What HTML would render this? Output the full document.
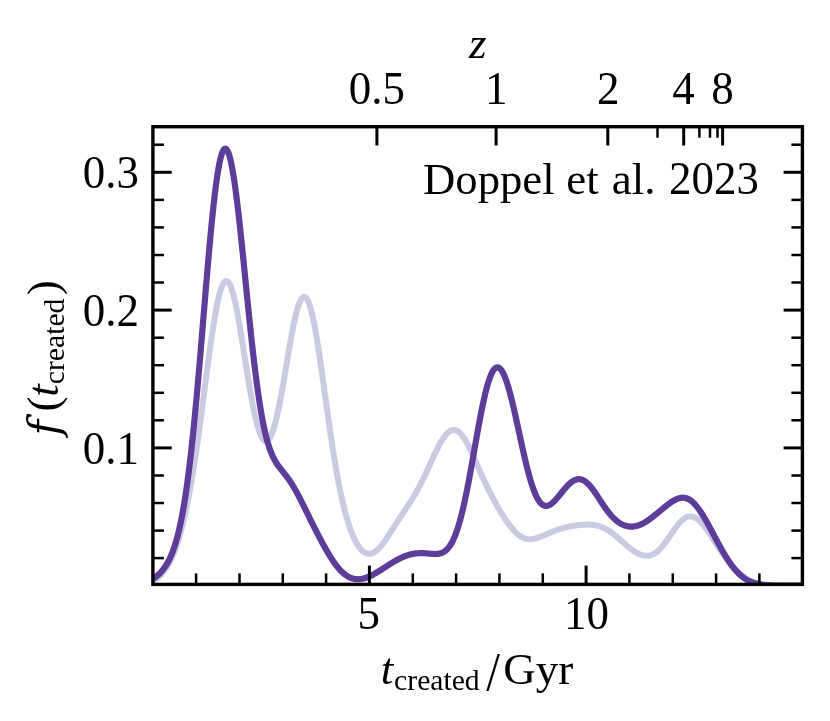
<!DOCTYPE html>
<html><head><meta charset="utf-8"><title>plot</title>
<style>
html,body{margin:0;padding:0;background:#fff;}
svg{display:block;}
text{font-family:"Liberation Serif",serif;font-size:45px;fill:#000;}
</style></head><body>
<svg width="830" height="721" viewBox="0 0 830 721">
<rect width="830" height="721" fill="#fff"/>
<clipPath id="c"><rect x="152.9" y="126.7" width="649.5" height="457.7"/></clipPath>
<g clip-path="url(#c)">
<path d="M151.9,581.45 L152.4,581.21 L152.9,580.95 L153.4,580.69 L153.9,580.41 L154.4,580.11 L154.9,579.80 L155.4,579.48 L155.9,579.15 L156.4,578.80 L156.9,578.43 L157.4,578.05 L157.9,577.65 L158.4,577.24 L158.9,576.81 L159.4,576.36 L159.9,575.89 L160.4,575.40 L160.9,574.90 L161.4,574.37 L161.9,573.82 L162.4,573.25 L162.9,572.67 L163.4,572.05 L163.9,571.42 L164.4,570.76 L164.9,570.08 L165.4,569.37 L165.9,568.64 L166.4,567.88 L166.9,567.10 L167.4,566.29 L167.9,565.45 L168.4,564.58 L168.9,563.68 L169.4,562.76 L169.9,561.80 L170.4,560.81 L170.9,559.79 L171.4,558.74 L171.9,557.66 L172.4,556.54 L172.9,555.38 L173.4,554.19 L173.9,552.97 L174.4,551.70 L174.9,550.40 L175.4,549.06 L175.9,547.68 L176.4,546.27 L176.9,544.81 L177.4,543.31 L177.9,541.76 L178.4,540.18 L178.9,538.55 L179.4,536.87 L179.9,535.15 L180.4,533.39 L180.9,531.58 L181.4,529.72 L181.9,527.81 L182.4,525.85 L182.9,523.85 L183.4,521.79 L183.9,519.68 L184.4,517.52 L184.9,515.31 L185.4,513.05 L185.9,510.74 L186.4,508.37 L186.9,505.95 L187.4,503.47 L187.9,500.94 L188.4,498.36 L188.9,495.72 L189.4,493.02 L189.9,490.28 L190.4,487.48 L190.9,484.62 L191.4,481.71 L191.9,478.75 L192.4,475.73 L192.9,472.66 L193.4,469.54 L193.9,466.37 L194.4,463.15 L194.9,459.87 L195.4,456.56 L195.9,453.19 L196.4,449.78 L196.9,446.32 L197.4,442.83 L197.9,439.29 L198.4,435.71 L198.9,432.10 L199.4,428.45 L199.9,424.78 L200.4,421.07 L200.9,417.33 L201.4,413.58 L201.9,409.80 L202.4,406.00 L202.9,402.19 L203.4,398.37 L203.9,394.54 L204.4,390.70 L204.9,386.86 L205.4,383.03 L205.9,379.21 L206.4,375.39 L206.9,371.59 L207.4,367.81 L207.9,364.06 L208.4,360.33 L208.9,356.63 L209.4,352.98 L209.9,349.36 L210.4,345.79 L210.9,342.27 L211.4,338.81 L211.9,335.40 L212.4,332.07 L212.9,328.80 L213.4,325.60 L213.9,322.49 L214.4,319.45 L214.9,316.51 L215.4,313.65 L215.9,310.89 L216.4,308.23 L216.9,305.68 L217.4,303.23 L217.9,300.90 L218.4,298.68 L218.9,296.58 L219.4,294.60 L219.9,292.75 L220.4,291.02 L220.9,289.43 L221.4,287.97 L221.9,286.64 L222.4,285.45 L222.9,284.40 L223.4,283.49 L223.9,282.72 L224.4,282.10 L224.9,281.62 L225.4,281.28 L225.9,281.09 L226.4,281.04 L226.9,281.13 L227.4,281.37 L227.9,281.75 L228.4,282.27 L228.9,282.93 L229.4,283.73 L229.9,284.66 L230.4,285.73 L230.9,286.94 L231.4,288.27 L231.9,289.72 L232.4,291.30 L232.9,293.00 L233.4,294.81 L233.9,296.74 L234.4,298.78 L234.9,300.92 L235.4,303.16 L235.9,305.49 L236.4,307.92 L236.9,310.43 L237.4,313.02 L237.9,315.69 L238.4,318.44 L238.9,321.24 L239.4,324.11 L239.9,327.04 L240.4,330.01 L240.9,333.03 L241.4,336.09 L241.9,339.18 L242.4,342.31 L242.9,345.45 L243.4,348.62 L243.9,351.79 L244.4,354.98 L244.9,358.16 L245.4,361.35 L245.9,364.52 L246.4,367.69 L246.9,370.83 L247.4,373.96 L247.9,377.05 L248.4,380.11 L248.9,383.14 L249.4,386.13 L249.9,389.07 L250.4,391.96 L250.9,394.80 L251.4,397.58 L251.9,400.30 L252.4,402.95 L252.9,405.54 L253.4,408.06 L253.9,410.50 L254.4,412.87 L254.9,415.16 L255.4,417.36 L255.9,419.48 L256.4,421.51 L256.9,423.45 L257.4,425.30 L257.9,427.05 L258.4,428.71 L258.9,430.27 L259.4,431.73 L259.9,433.09 L260.4,434.34 L260.9,435.50 L261.4,436.55 L261.9,437.49 L262.4,438.32 L262.9,439.05 L263.4,439.67 L263.9,440.19 L264.4,440.59 L264.9,440.88 L265.4,441.07 L265.9,441.14 L266.4,441.11 L266.9,440.96 L267.4,440.71 L267.9,440.35 L268.4,439.87 L268.9,439.30 L269.4,438.61 L269.9,437.82 L270.4,436.92 L270.9,435.92 L271.4,434.82 L271.9,433.61 L272.4,432.30 L272.9,430.90 L273.4,429.40 L273.9,427.80 L274.4,426.11 L274.9,424.33 L275.4,422.46 L275.9,420.50 L276.4,418.46 L276.9,416.34 L277.4,414.14 L277.9,411.86 L278.4,409.52 L278.9,407.10 L279.4,404.61 L279.9,402.07 L280.4,399.46 L280.9,396.80 L281.4,394.09 L281.9,391.34 L282.4,388.54 L282.9,385.70 L283.4,382.82 L283.9,379.92 L284.4,376.99 L284.9,374.05 L285.4,371.08 L285.9,368.11 L286.4,365.13 L286.9,362.16 L287.4,359.18 L287.9,356.22 L288.4,353.27 L288.9,350.35 L289.4,347.45 L289.9,344.58 L290.4,341.75 L290.9,338.96 L291.4,336.22 L291.9,333.53 L292.4,330.90 L292.9,328.34 L293.4,325.84 L293.9,323.41 L294.4,321.07 L294.9,318.80 L295.4,316.63 L295.9,314.55 L296.4,312.56 L296.9,310.68 L297.4,308.90 L297.9,307.23 L298.4,305.67 L298.9,304.23 L299.4,302.91 L299.9,301.72 L300.4,300.64 L300.9,299.70 L301.4,298.89 L301.9,298.21 L302.4,297.66 L302.9,297.25 L303.4,296.98 L303.9,296.85 L304.4,296.85 L304.9,297.00 L305.4,297.28 L305.9,297.71 L306.4,298.27 L306.9,298.98 L307.4,299.82 L307.9,300.80 L308.4,301.91 L308.9,303.16 L309.4,304.54 L309.9,306.05 L310.4,307.69 L310.9,309.45 L311.4,311.33 L311.9,313.34 L312.4,315.46 L312.9,317.69 L313.4,320.03 L313.9,322.47 L314.4,325.02 L314.9,327.66 L315.4,330.39 L315.9,333.22 L316.4,336.12 L316.9,339.11 L317.4,342.17 L317.9,345.30 L318.4,348.49 L318.9,351.75 L319.4,355.06 L319.9,358.43 L320.4,361.83 L320.9,365.29 L321.4,368.77 L321.9,372.29 L322.4,375.84 L322.9,379.41 L323.4,383.00 L323.9,386.60 L324.4,390.21 L324.9,393.82 L325.4,397.44 L325.9,401.06 L326.4,404.66 L326.9,408.26 L327.4,411.84 L327.9,415.41 L328.4,418.95 L328.9,422.47 L329.4,425.96 L329.9,429.43 L330.4,432.85 L330.9,436.25 L331.4,439.60 L331.9,442.92 L332.4,446.19 L332.9,449.42 L333.4,452.61 L333.9,455.75 L334.4,458.83 L334.9,461.87 L335.4,464.86 L335.9,467.79 L336.4,470.67 L336.9,473.49 L337.4,476.27 L337.9,478.98 L338.4,481.64 L338.9,484.25 L339.4,486.79 L339.9,489.28 L340.4,491.72 L340.9,494.10 L341.4,496.42 L341.9,498.69 L342.4,500.90 L342.9,503.06 L343.4,505.16 L343.9,507.21 L344.4,509.21 L344.9,511.15 L345.4,513.04 L345.9,514.88 L346.4,516.66 L346.9,518.40 L347.4,520.09 L347.9,521.72 L348.4,523.31 L348.9,524.86 L349.4,526.35 L349.9,527.80 L350.4,529.20 L350.9,530.56 L351.4,531.88 L351.9,533.15 L352.4,534.38 L352.9,535.56 L353.4,536.71 L353.9,537.81 L354.4,538.88 L354.9,539.90 L355.4,540.88 L355.9,541.83 L356.4,542.74 L356.9,543.60 L357.4,544.43 L357.9,545.23 L358.4,545.98 L358.9,546.70 L359.4,547.39 L359.9,548.03 L360.4,548.64 L360.9,549.22 L361.4,549.76 L361.9,550.26 L362.4,550.73 L362.9,551.17 L363.4,551.57 L363.9,551.94 L364.4,552.27 L364.9,552.57 L365.4,552.83 L365.9,553.07 L366.4,553.27 L366.9,553.43 L367.4,553.56 L367.9,553.67 L368.4,553.73 L368.9,553.77 L369.4,553.78 L369.9,553.75 L370.4,553.69 L370.9,553.60 L371.4,553.49 L371.9,553.34 L372.4,553.16 L372.9,552.96 L373.4,552.72 L373.9,552.46 L374.4,552.17 L374.9,551.85 L375.4,551.51 L375.9,551.14 L376.4,550.74 L376.9,550.33 L377.4,549.88 L377.9,549.42 L378.4,548.93 L378.9,548.42 L379.4,547.89 L379.9,547.34 L380.4,546.77 L380.9,546.18 L381.4,545.57 L381.9,544.95 L382.4,544.31 L382.9,543.66 L383.4,542.99 L383.9,542.31 L384.4,541.61 L384.9,540.91 L385.4,540.19 L385.9,539.46 L386.4,538.72 L386.9,537.98 L387.4,537.22 L387.9,536.46 L388.4,535.70 L388.9,534.93 L389.4,534.15 L389.9,533.37 L390.4,532.59 L390.9,531.80 L391.4,531.01 L391.9,530.22 L392.4,529.43 L392.9,528.64 L393.4,527.85 L393.9,527.07 L394.4,526.28 L394.9,525.49 L395.4,524.70 L395.9,523.92 L396.4,523.14 L396.9,522.36 L397.4,521.58 L397.9,520.81 L398.4,520.04 L398.9,519.27 L399.4,518.51 L399.9,517.74 L400.4,516.98 L400.9,516.23 L401.4,515.47 L401.9,514.72 L402.4,513.97 L402.9,513.22 L403.4,512.47 L403.9,511.72 L404.4,510.97 L404.9,510.22 L405.4,509.48 L405.9,508.73 L406.4,507.98 L406.9,507.22 L407.4,506.47 L407.9,505.71 L408.4,504.95 L408.9,504.19 L409.4,503.42 L409.9,502.65 L410.4,501.87 L410.9,501.09 L411.4,500.29 L411.9,499.50 L412.4,498.69 L412.9,497.88 L413.4,497.06 L413.9,496.23 L414.4,495.39 L414.9,494.55 L415.4,493.69 L415.9,492.82 L416.4,491.94 L416.9,491.06 L417.4,490.16 L417.9,489.25 L418.4,488.33 L418.9,487.40 L419.4,486.46 L419.9,485.51 L420.4,484.54 L420.9,483.57 L421.4,482.58 L421.9,481.59 L422.4,480.58 L422.9,479.57 L423.4,478.54 L423.9,477.51 L424.4,476.46 L424.9,475.41 L425.4,474.35 L425.9,473.29 L426.4,472.21 L426.9,471.13 L427.4,470.05 L427.9,468.96 L428.4,467.87 L428.9,466.77 L429.4,465.67 L429.9,464.57 L430.4,463.47 L430.9,462.37 L431.4,461.27 L431.9,460.17 L432.4,459.08 L432.9,457.99 L433.4,456.91 L433.9,455.83 L434.4,454.76 L434.9,453.70 L435.4,452.64 L435.9,451.60 L436.4,450.57 L436.9,449.56 L437.4,448.55 L437.9,447.56 L438.4,446.59 L438.9,445.64 L439.4,444.70 L439.9,443.79 L440.4,442.89 L440.9,442.02 L441.4,441.17 L441.9,440.34 L442.4,439.54 L442.9,438.76 L443.4,438.01 L443.9,437.29 L444.4,436.60 L444.9,435.94 L445.4,435.31 L445.9,434.71 L446.4,434.14 L446.9,433.61 L447.4,433.11 L447.9,432.64 L448.4,432.21 L448.9,431.82 L449.4,431.46 L449.9,431.14 L450.4,430.86 L450.9,430.62 L451.4,430.41 L451.9,430.25 L452.4,430.12 L452.9,430.03 L453.4,429.98 L453.9,429.98 L454.4,430.01 L454.9,430.08 L455.4,430.19 L455.9,430.34 L456.4,430.53 L456.9,430.77 L457.4,431.04 L457.9,431.34 L458.4,431.69 L458.9,432.08 L459.4,432.50 L459.9,432.96 L460.4,433.46 L460.9,433.99 L461.4,434.56 L461.9,435.16 L462.4,435.80 L462.9,436.47 L463.4,437.17 L463.9,437.90 L464.4,438.66 L464.9,439.45 L465.4,440.27 L465.9,441.12 L466.4,441.99 L466.9,442.89 L467.4,443.81 L467.9,444.75 L468.4,445.72 L468.9,446.70 L469.4,447.71 L469.9,448.73 L470.4,449.76 L470.9,450.82 L471.4,451.89 L471.9,452.97 L472.4,454.06 L472.9,455.16 L473.4,456.27 L473.9,457.39 L474.4,458.52 L474.9,459.65 L475.4,460.79 L475.9,461.93 L476.4,463.07 L476.9,464.22 L477.4,465.37 L477.9,466.51 L478.4,467.66 L478.9,468.81 L479.4,469.95 L479.9,471.09 L480.4,472.22 L480.9,473.35 L481.4,474.48 L481.9,475.60 L482.4,476.71 L482.9,477.82 L483.4,478.92 L483.9,480.01 L484.4,481.10 L484.9,482.17 L485.4,483.24 L485.9,484.30 L486.4,485.35 L486.9,486.40 L487.4,487.43 L487.9,488.45 L488.4,489.47 L488.9,490.48 L489.4,491.48 L489.9,492.47 L490.4,493.45 L490.9,494.42 L491.4,495.38 L491.9,496.34 L492.4,497.28 L492.9,498.22 L493.4,499.15 L493.9,500.07 L494.4,500.99 L494.9,501.89 L495.4,502.79 L495.9,503.69 L496.4,504.57 L496.9,505.45 L497.4,506.32 L497.9,507.18 L498.4,508.04 L498.9,508.89 L499.4,509.73 L499.9,510.57 L500.4,511.40 L500.9,512.22 L501.4,513.03 L501.9,513.84 L502.4,514.64 L502.9,515.44 L503.4,516.22 L503.9,517.00 L504.4,517.77 L504.9,518.53 L505.4,519.29 L505.9,520.03 L506.4,520.77 L506.9,521.50 L507.4,522.21 L507.9,522.92 L508.4,523.62 L508.9,524.30 L509.4,524.98 L509.9,525.64 L510.4,526.29 L510.9,526.93 L511.4,527.56 L511.9,528.18 L512.4,528.78 L512.9,529.36 L513.4,529.93 L513.9,530.49 L514.4,531.03 L514.9,531.56 L515.4,532.07 L515.9,532.56 L516.4,533.04 L516.9,533.50 L517.4,533.95 L517.9,534.38 L518.4,534.79 L518.9,535.18 L519.4,535.55 L519.9,535.91 L520.4,536.24 L520.9,536.56 L521.4,536.86 L521.9,537.15 L522.4,537.41 L522.9,537.66 L523.4,537.88 L523.9,538.09 L524.4,538.28 L524.9,538.46 L525.4,538.61 L525.9,538.75 L526.4,538.87 L526.9,538.97 L527.4,539.06 L527.9,539.13 L528.4,539.18 L528.9,539.22 L529.4,539.25 L529.9,539.25 L530.4,539.25 L530.9,539.23 L531.4,539.19 L531.9,539.14 L532.4,539.09 L532.9,539.01 L533.4,538.93 L533.9,538.83 L534.4,538.73 L534.9,538.61 L535.4,538.49 L535.9,538.35 L536.4,538.21 L536.9,538.06 L537.4,537.90 L537.9,537.74 L538.4,537.57 L538.9,537.39 L539.4,537.20 L539.9,537.02 L540.4,536.82 L540.9,536.63 L541.4,536.43 L541.9,536.22 L542.4,536.02 L542.9,535.81 L543.4,535.60 L543.9,535.38 L544.4,535.17 L544.9,534.95 L545.4,534.74 L545.9,534.52 L546.4,534.31 L546.9,534.09 L547.4,533.87 L547.9,533.66 L548.4,533.44 L548.9,533.23 L549.4,533.02 L549.9,532.81 L550.4,532.60 L550.9,532.39 L551.4,532.19 L551.9,531.99 L552.4,531.79 L552.9,531.59 L553.4,531.39 L553.9,531.20 L554.4,531.01 L554.9,530.82 L555.4,530.63 L555.9,530.45 L556.4,530.27 L556.9,530.09 L557.4,529.92 L557.9,529.75 L558.4,529.58 L558.9,529.41 L559.4,529.25 L559.9,529.09 L560.4,528.93 L560.9,528.77 L561.4,528.62 L561.9,528.47 L562.4,528.33 L562.9,528.18 L563.4,528.04 L563.9,527.91 L564.4,527.77 L564.9,527.64 L565.4,527.51 L565.9,527.39 L566.4,527.26 L566.9,527.14 L567.4,527.03 L567.9,526.91 L568.4,526.80 L568.9,526.69 L569.4,526.59 L569.9,526.48 L570.4,526.38 L570.9,526.29 L571.4,526.19 L571.9,526.10 L572.4,526.01 L572.9,525.92 L573.4,525.84 L573.9,525.76 L574.4,525.68 L574.9,525.60 L575.4,525.53 L575.9,525.46 L576.4,525.39 L576.9,525.32 L577.4,525.26 L577.9,525.20 L578.4,525.14 L578.9,525.09 L579.4,525.04 L579.9,524.99 L580.4,524.94 L580.9,524.90 L581.4,524.86 L581.9,524.82 L582.4,524.78 L582.9,524.75 L583.4,524.72 L583.9,524.70 L584.4,524.67 L584.9,524.65 L585.4,524.64 L585.9,524.63 L586.4,524.62 L586.9,524.61 L587.4,524.61 L587.9,524.62 L588.4,524.63 L588.9,524.64 L589.4,524.66 L589.9,524.68 L590.4,524.70 L590.9,524.74 L591.4,524.77 L591.9,524.82 L592.4,524.86 L592.9,524.92 L593.4,524.98 L593.9,525.04 L594.4,525.12 L594.9,525.20 L595.4,525.28 L595.9,525.38 L596.4,525.48 L596.9,525.59 L597.4,525.70 L597.9,525.83 L598.4,525.96 L598.9,526.10 L599.4,526.25 L599.9,526.40 L600.4,526.57 L600.9,526.74 L601.4,526.92 L601.9,527.11 L602.4,527.32 L602.9,527.53 L603.4,527.74 L603.9,527.97 L604.4,528.21 L604.9,528.45 L605.4,528.71 L605.9,528.97 L606.4,529.25 L606.9,529.53 L607.4,529.82 L607.9,530.12 L608.4,530.43 L608.9,530.75 L609.4,531.08 L609.9,531.41 L610.4,531.75 L610.9,532.11 L611.4,532.46 L611.9,532.83 L612.4,533.20 L612.9,533.58 L613.4,533.97 L613.9,534.36 L614.4,534.76 L614.9,535.16 L615.4,535.57 L615.9,535.99 L616.4,536.41 L616.9,536.83 L617.4,537.26 L617.9,537.69 L618.4,538.13 L618.9,538.56 L619.4,539.00 L619.9,539.45 L620.4,539.89 L620.9,540.33 L621.4,540.78 L621.9,541.23 L622.4,541.67 L622.9,542.12 L623.4,542.56 L623.9,543.01 L624.4,543.45 L624.9,543.89 L625.4,544.33 L625.9,544.76 L626.4,545.19 L626.9,545.62 L627.4,546.04 L627.9,546.47 L628.4,546.88 L628.9,547.29 L629.4,547.70 L629.9,548.10 L630.4,548.49 L630.9,548.88 L631.4,549.26 L631.9,549.63 L632.4,549.99 L632.9,550.35 L633.4,550.70 L633.9,551.04 L634.4,551.37 L634.9,551.70 L635.4,552.01 L635.9,552.31 L636.4,552.61 L636.9,552.89 L637.4,553.16 L637.9,553.42 L638.4,553.67 L638.9,553.91 L639.4,554.13 L639.9,554.34 L640.4,554.54 L640.9,554.73 L641.4,554.90 L641.9,555.06 L642.4,555.20 L642.9,555.33 L643.4,555.45 L643.9,555.54 L644.4,555.63 L644.9,555.69 L645.4,555.74 L645.9,555.78 L646.4,555.80 L646.9,555.79 L647.4,555.78 L647.9,555.74 L648.4,555.69 L648.9,555.61 L649.4,555.52 L649.9,555.41 L650.4,555.28 L650.9,555.13 L651.4,554.96 L651.9,554.77 L652.4,554.57 L652.9,554.34 L653.4,554.09 L653.9,553.82 L654.4,553.53 L654.9,553.22 L655.4,552.90 L655.9,552.55 L656.4,552.18 L656.9,551.79 L657.4,551.38 L657.9,550.95 L658.4,550.51 L658.9,550.04 L659.4,549.55 L659.9,549.05 L660.4,548.53 L660.9,547.99 L661.4,547.44 L661.9,546.87 L662.4,546.28 L662.9,545.67 L663.4,545.06 L663.9,544.43 L664.4,543.78 L664.9,543.12 L665.4,542.45 L665.9,541.77 L666.4,541.08 L666.9,540.39 L667.4,539.68 L667.9,538.96 L668.4,538.24 L668.9,537.52 L669.4,536.79 L669.9,536.05 L670.4,535.32 L670.9,534.58 L671.4,533.85 L671.9,533.11 L672.4,532.38 L672.9,531.65 L673.4,530.93 L673.9,530.21 L674.4,529.50 L674.9,528.80 L675.4,528.10 L675.9,527.42 L676.4,526.75 L676.9,526.09 L677.4,525.45 L677.9,524.82 L678.4,524.20 L678.9,523.61 L679.4,523.03 L679.9,522.47 L680.4,521.93 L680.9,521.41 L681.4,520.91 L681.9,520.44 L682.4,519.98 L682.9,519.56 L683.4,519.15 L683.9,518.77 L684.4,518.42 L684.9,518.10 L685.4,517.80 L685.9,517.53 L686.4,517.28 L686.9,517.07 L687.4,516.88 L687.9,516.72 L688.4,516.59 L688.9,516.49 L689.4,516.42 L689.9,516.38 L690.4,516.36 L690.9,516.38 L691.4,516.42 L691.9,516.50 L692.4,516.60 L692.9,516.73 L693.4,516.89 L693.9,517.08 L694.4,517.29 L694.9,517.53 L695.4,517.80 L695.9,518.09 L696.4,518.41 L696.9,518.75 L697.4,519.12 L697.9,519.51 L698.4,519.93 L698.9,520.36 L699.4,520.82 L699.9,521.30 L700.4,521.80 L700.9,522.32 L701.4,522.86 L701.9,523.42 L702.4,523.99 L702.9,524.59 L703.4,525.19 L703.9,525.82 L704.4,526.45 L704.9,527.11 L705.4,527.77 L705.9,528.45 L706.4,529.13 L706.9,529.83 L707.4,530.54 L707.9,531.26 L708.4,531.98 L708.9,532.72 L709.4,533.46 L709.9,534.20 L710.4,534.96 L710.9,535.71 L711.4,536.48 L711.9,537.24 L712.4,538.01 L712.9,538.78 L713.4,539.56 L713.9,540.33 L714.4,541.11 L714.9,541.89 L715.4,542.67 L715.9,543.44 L716.4,544.22 L716.9,544.99 L717.4,545.76 L717.9,546.53 L718.4,547.30 L718.9,548.06 L719.4,548.82 L719.9,549.58 L720.4,550.33 L720.9,551.08 L721.4,551.82 L721.9,552.56 L722.4,553.29 L722.9,554.01 L723.4,554.73 L723.9,555.45 L724.4,556.15 L724.9,556.85 L725.4,557.55 L725.9,558.23 L726.4,558.91 L726.9,559.58 L727.4,560.24 L727.9,560.90 L728.4,561.54 L728.9,562.18 L729.4,562.81 L729.9,563.43 L730.4,564.04 L730.9,564.64 L731.4,565.24 L731.9,565.82 L732.4,566.39 L732.9,566.96 L733.4,567.52 L733.9,568.06 L734.4,568.60 L734.9,569.13 L735.4,569.64 L735.9,570.15 L736.4,570.65 L736.9,571.14 L737.4,571.61 L737.9,572.08 L738.4,572.54 L738.9,572.99 L739.4,573.43 L739.9,573.86 L740.4,574.27 L740.9,574.68 L741.4,575.08 L741.9,575.47 L742.4,575.85 L742.9,576.22 L743.4,576.58 L743.9,576.93 L744.4,577.27 L744.9,577.60 L745.4,577.92 L745.9,578.24 L746.4,578.54 L746.9,578.83 L747.4,579.12 L747.9,579.40 L748.4,579.66 L748.9,579.92 L749.4,580.18 L749.9,580.42 L750.4,580.65 L750.9,580.88 L751.4,581.10 L751.9,581.31 L752.4,581.51 L752.9,581.71 L753.4,581.90 L753.9,582.08 L754.4,582.26 L754.9,582.43 L755.4,582.59 L755.9,582.74 L756.4,582.89 L756.9,583.04 L757.4,583.17 L757.9,583.30 L758.4,583.43 L758.9,583.55 L759.4,583.66 L759.9,583.77 L760.4,583.88 L760.9,583.98 L761.4,584.08 L761.9,584.17 L762.4,584.25 L762.9,584.34 L763.4,584.42 L763.9,584.49 L764.4,584.56 L764.9,584.63 L765.4,584.69 L765.9,584.75 L766.4,584.81 L766.9,584.87 L767.4,584.92 L767.9,584.97 L768.4,585.01 L768.9,585.06 L769.4,585.10 L769.9,585.14 L770.4,585.17 L770.9,585.21 L771.4,585.24 L771.9,585.27 L772.4,585.30 L772.9,585.33 L773.4,585.35 L773.9,585.38 L774.4,585.40 L774.9,585.42 L775.4,585.44 L775.9,585.46 L776.4,585.48 L776.9,585.49 L777.4,585.51 L777.9,585.52 L778.4,585.53 L778.9,585.55 L779.4,585.56 L779.9,585.57 L780.4,585.58 L780.9,585.59 L781.4,585.60 L781.9,585.60 L782.4,585.61 L782.9,585.62 L783.4,585.63 L783.9,585.63 L784.4,585.64 L784.9,585.64 L785.4,585.65 L785.9,585.65 L786.4,585.66 L786.9,585.66 L787.4,585.66 L787.9,585.67 L788.4,585.67 L788.9,585.67 L789.4,585.67 L789.9,585.68 L790.4,585.68 L790.9,585.68 L791.4,585.68 L791.9,585.68 L792.4,585.68 L792.9,585.69 L793.4,585.69 L793.9,585.69 L794.4,585.69 L794.9,585.69 L795.4,585.69 L795.9,585.69 L796.4,585.69 L796.9,585.69 L797.4,585.69 L797.9,585.69 L798.4,585.70 L798.9,585.70 L799.4,585.70 L799.9,585.70 L800.4,585.70 L800.9,585.70 L801.4,585.70 L801.9,585.70 L802.4,585.70 L802.9,585.70 L803.4,585.70" fill="none" stroke="#cbcae3" stroke-width="6.0" stroke-linejoin="round" stroke-linecap="butt"/>
<path d="M151.9,579.40 L152.4,579.11 L152.9,578.81 L153.4,578.49 L153.9,578.16 L154.4,577.83 L154.9,577.48 L155.4,577.11 L155.9,576.74 L156.4,576.34 L156.9,575.94 L157.4,575.52 L157.9,575.09 L158.4,574.64 L158.9,574.17 L159.4,573.69 L159.9,573.19 L160.4,572.67 L160.9,572.14 L161.4,571.58 L161.9,571.00 L162.4,570.41 L162.9,569.79 L163.4,569.14 L163.9,568.48 L164.4,567.79 L164.9,567.07 L165.4,566.33 L165.9,565.56 L166.4,564.76 L166.9,563.92 L167.4,563.06 L167.9,562.16 L168.4,561.23 L168.9,560.27 L169.4,559.26 L169.9,558.22 L170.4,557.14 L170.9,556.01 L171.4,554.84 L171.9,553.62 L172.4,552.36 L172.9,551.04 L173.4,549.68 L173.9,548.26 L174.4,546.78 L174.9,545.25 L175.4,543.66 L175.9,542.00 L176.4,540.28 L176.9,538.50 L177.4,536.64 L177.9,534.72 L178.4,532.72 L178.9,530.65 L179.4,528.51 L179.9,526.28 L180.4,523.97 L180.9,521.58 L181.4,519.10 L181.9,516.54 L182.4,513.89 L182.9,511.14 L183.4,508.30 L183.9,505.37 L184.4,502.34 L184.9,499.22 L185.4,496.00 L185.9,492.67 L186.4,489.25 L186.9,485.72 L187.4,482.09 L187.9,478.36 L188.4,474.52 L188.9,470.58 L189.4,466.53 L189.9,462.38 L190.4,458.13 L190.9,453.77 L191.4,449.31 L191.9,444.75 L192.4,440.09 L192.9,435.33 L193.4,430.47 L193.9,425.52 L194.4,420.47 L194.9,415.34 L195.4,410.12 L195.9,404.81 L196.4,399.42 L196.9,393.96 L197.4,388.42 L197.9,382.82 L198.4,377.14 L198.9,371.41 L199.4,365.63 L199.9,359.79 L200.4,353.91 L200.9,347.98 L201.4,342.03 L201.9,336.05 L202.4,330.04 L202.9,324.02 L203.4,318.00 L203.9,311.97 L204.4,305.94 L204.9,299.93 L205.4,293.94 L205.9,287.98 L206.4,282.04 L206.9,276.16 L207.4,270.32 L207.9,264.53 L208.4,258.81 L208.9,253.17 L209.4,247.60 L209.9,242.11 L210.4,236.73 L210.9,231.44 L211.4,226.26 L211.9,221.20 L212.4,216.26 L212.9,211.45 L213.4,206.78 L213.9,202.25 L214.4,197.87 L214.9,193.64 L215.4,189.58 L215.9,185.68 L216.4,181.96 L216.9,178.41 L217.4,175.04 L217.9,171.87 L218.4,168.88 L218.9,166.09 L219.4,163.49 L219.9,161.10 L220.4,158.91 L220.9,156.93 L221.4,155.16 L221.9,153.60 L222.4,152.26 L222.9,151.12 L223.4,150.21 L223.9,149.50 L224.4,149.02 L224.9,148.75 L225.4,148.69 L225.9,148.84 L226.4,149.21 L226.9,149.79 L227.4,150.58 L227.9,151.57 L228.4,152.76 L228.9,154.16 L229.4,155.75 L229.9,157.54 L230.4,159.51 L230.9,161.67 L231.4,164.02 L231.9,166.53 L232.4,169.22 L232.9,172.08 L233.4,175.10 L233.9,178.27 L234.4,181.59 L234.9,185.06 L235.4,188.66 L235.9,192.40 L236.4,196.26 L236.9,200.24 L237.4,204.34 L237.9,208.54 L238.4,212.83 L238.9,217.23 L239.4,221.71 L239.9,226.26 L240.4,230.89 L240.9,235.59 L241.4,240.34 L241.9,245.15 L242.4,250.00 L242.9,254.89 L243.4,259.82 L243.9,264.77 L244.4,269.73 L244.9,274.71 L245.4,279.70 L245.9,284.69 L246.4,289.67 L246.9,294.64 L247.4,299.59 L247.9,304.52 L248.4,309.43 L248.9,314.29 L249.4,319.12 L249.9,323.91 L250.4,328.65 L250.9,333.33 L251.4,337.96 L251.9,342.52 L252.4,347.02 L252.9,351.45 L253.4,355.81 L253.9,360.10 L254.4,364.30 L254.9,368.42 L255.4,372.46 L255.9,376.41 L256.4,380.27 L256.9,384.05 L257.4,387.73 L257.9,391.31 L258.4,394.80 L258.9,398.20 L259.4,401.50 L259.9,404.70 L260.4,407.80 L260.9,410.81 L261.4,413.72 L261.9,416.53 L262.4,419.24 L262.9,421.86 L263.4,424.39 L263.9,426.82 L264.4,429.15 L264.9,431.40 L265.4,433.56 L265.9,435.62 L266.4,437.61 L266.9,439.50 L267.4,441.32 L267.9,443.06 L268.4,444.72 L268.9,446.30 L269.4,447.82 L269.9,449.26 L270.4,450.64 L270.9,451.95 L271.4,453.20 L271.9,454.39 L272.4,455.53 L272.9,456.62 L273.4,457.66 L273.9,458.65 L274.4,459.59 L274.9,460.50 L275.4,461.37 L275.9,462.21 L276.4,463.01 L276.9,463.78 L277.4,464.53 L277.9,465.25 L278.4,465.96 L278.9,466.64 L279.4,467.31 L279.9,467.97 L280.4,468.61 L280.9,469.25 L281.4,469.88 L281.9,470.50 L282.4,471.13 L282.9,471.75 L283.4,472.37 L283.9,472.99 L284.4,473.62 L284.9,474.25 L285.4,474.89 L285.9,475.54 L286.4,476.19 L286.9,476.86 L287.4,477.53 L287.9,478.22 L288.4,478.92 L288.9,479.63 L289.4,480.35 L289.9,481.09 L290.4,481.84 L290.9,482.60 L291.4,483.37 L291.9,484.16 L292.4,484.97 L292.9,485.78 L293.4,486.61 L293.9,487.45 L294.4,488.31 L294.9,489.18 L295.4,490.06 L295.9,490.95 L296.4,491.85 L296.9,492.76 L297.4,493.68 L297.9,494.62 L298.4,495.56 L298.9,496.51 L299.4,497.47 L299.9,498.43 L300.4,499.40 L300.9,500.38 L301.4,501.37 L301.9,502.36 L302.4,503.35 L302.9,504.35 L303.4,505.35 L303.9,506.36 L304.4,507.36 L304.9,508.37 L305.4,509.39 L305.9,510.40 L306.4,511.42 L306.9,512.43 L307.4,513.45 L307.9,514.46 L308.4,515.48 L308.9,516.49 L309.4,517.50 L309.9,518.52 L310.4,519.53 L310.9,520.54 L311.4,521.55 L311.9,522.55 L312.4,523.56 L312.9,524.56 L313.4,525.56 L313.9,526.55 L314.4,527.54 L314.9,528.53 L315.4,529.52 L315.9,530.51 L316.4,531.49 L316.9,532.46 L317.4,533.44 L317.9,534.41 L318.4,535.37 L318.9,536.33 L319.4,537.29 L319.9,538.24 L320.4,539.19 L320.9,540.14 L321.4,541.07 L321.9,542.01 L322.4,542.93 L322.9,543.86 L323.4,544.77 L323.9,545.68 L324.4,546.59 L324.9,547.48 L325.4,548.37 L325.9,549.25 L326.4,550.13 L326.9,551.00 L327.4,551.86 L327.9,552.71 L328.4,553.55 L328.9,554.38 L329.4,555.20 L329.9,556.02 L330.4,556.82 L330.9,557.62 L331.4,558.40 L331.9,559.17 L332.4,559.93 L332.9,560.68 L333.4,561.41 L333.9,562.14 L334.4,562.85 L334.9,563.55 L335.4,564.23 L335.9,564.90 L336.4,565.56 L336.9,566.21 L337.4,566.84 L337.9,567.45 L338.4,568.05 L338.9,568.64 L339.4,569.21 L339.9,569.76 L340.4,570.30 L340.9,570.83 L341.4,571.33 L341.9,571.83 L342.4,572.30 L342.9,572.76 L343.4,573.21 L343.9,573.63 L344.4,574.05 L344.9,574.44 L345.4,574.82 L345.9,575.18 L346.4,575.53 L346.9,575.86 L347.4,576.18 L347.9,576.47 L348.4,576.76 L348.9,577.02 L349.4,577.27 L349.9,577.51 L350.4,577.73 L350.9,577.93 L351.4,578.12 L351.9,578.29 L352.4,578.45 L352.9,578.59 L353.4,578.72 L353.9,578.83 L354.4,578.93 L354.9,579.02 L355.4,579.09 L355.9,579.15 L356.4,579.19 L356.9,579.22 L357.4,579.24 L357.9,579.25 L358.4,579.24 L358.9,579.22 L359.4,579.19 L359.9,579.14 L360.4,579.09 L360.9,579.02 L361.4,578.94 L361.9,578.86 L362.4,578.76 L362.9,578.65 L363.4,578.53 L363.9,578.40 L364.4,578.26 L364.9,578.11 L365.4,577.95 L365.9,577.79 L366.4,577.61 L366.9,577.43 L367.4,577.24 L367.9,577.04 L368.4,576.83 L368.9,576.62 L369.4,576.40 L369.9,576.17 L370.4,575.93 L370.9,575.69 L371.4,575.45 L371.9,575.19 L372.4,574.94 L372.9,574.67 L373.4,574.40 L373.9,574.13 L374.4,573.85 L374.9,573.57 L375.4,573.28 L375.9,572.99 L376.4,572.70 L376.9,572.40 L377.4,572.10 L377.9,571.80 L378.4,571.49 L378.9,571.18 L379.4,570.87 L379.9,570.56 L380.4,570.24 L380.9,569.93 L381.4,569.61 L381.9,569.29 L382.4,568.97 L382.9,568.65 L383.4,568.32 L383.9,568.00 L384.4,567.68 L384.9,567.36 L385.4,567.03 L385.9,566.71 L386.4,566.39 L386.9,566.06 L387.4,565.74 L387.9,565.42 L388.4,565.10 L388.9,564.79 L389.4,564.47 L389.9,564.15 L390.4,563.84 L390.9,563.53 L391.4,563.22 L391.9,562.91 L392.4,562.61 L392.9,562.31 L393.4,562.01 L393.9,561.71 L394.4,561.42 L394.9,561.13 L395.4,560.84 L395.9,560.56 L396.4,560.28 L396.9,560.01 L397.4,559.74 L397.9,559.47 L398.4,559.21 L398.9,558.95 L399.4,558.69 L399.9,558.44 L400.4,558.20 L400.9,557.96 L401.4,557.72 L401.9,557.49 L402.4,557.27 L402.9,557.05 L403.4,556.83 L403.9,556.62 L404.4,556.42 L404.9,556.22 L405.4,556.03 L405.9,555.85 L406.4,555.67 L406.9,555.49 L407.4,555.33 L407.9,555.16 L408.4,555.01 L408.9,554.86 L409.4,554.72 L409.9,554.58 L410.4,554.45 L410.9,554.32 L411.4,554.21 L411.9,554.10 L412.4,553.99 L412.9,553.89 L413.4,553.80 L413.9,553.71 L414.4,553.63 L414.9,553.56 L415.4,553.49 L415.9,553.43 L416.4,553.38 L416.9,553.33 L417.4,553.29 L417.9,553.25 L418.4,553.22 L418.9,553.20 L419.4,553.18 L419.9,553.16 L420.4,553.15 L420.9,553.15 L421.4,553.15 L421.9,553.16 L422.4,553.17 L422.9,553.18 L423.4,553.20 L423.9,553.22 L424.4,553.25 L424.9,553.28 L425.4,553.31 L425.9,553.35 L426.4,553.39 L426.9,553.43 L427.4,553.47 L427.9,553.51 L428.4,553.56 L428.9,553.60 L429.4,553.65 L429.9,553.69 L430.4,553.74 L430.9,553.78 L431.4,553.82 L431.9,553.86 L432.4,553.89 L432.9,553.92 L433.4,553.94 L433.9,553.96 L434.4,553.98 L434.9,553.98 L435.4,553.98 L435.9,553.97 L436.4,553.95 L436.9,553.93 L437.4,553.88 L437.9,553.83 L438.4,553.76 L438.9,553.68 L439.4,553.59 L439.9,553.47 L440.4,553.34 L440.9,553.19 L441.4,553.02 L441.9,552.83 L442.4,552.62 L442.9,552.38 L443.4,552.11 L443.9,551.82 L444.4,551.51 L444.9,551.16 L445.4,550.78 L445.9,550.37 L446.4,549.93 L446.9,549.45 L447.4,548.94 L447.9,548.39 L448.4,547.80 L448.9,547.17 L449.4,546.50 L449.9,545.78 L450.4,545.02 L450.9,544.22 L451.4,543.37 L451.9,542.48 L452.4,541.53 L452.9,540.53 L453.4,539.49 L453.9,538.39 L454.4,537.24 L454.9,536.03 L455.4,534.78 L455.9,533.46 L456.4,532.09 L456.9,530.67 L457.4,529.19 L457.9,527.65 L458.4,526.06 L458.9,524.40 L459.4,522.69 L459.9,520.93 L460.4,519.11 L460.9,517.23 L461.4,515.29 L461.9,513.30 L462.4,511.26 L462.9,509.16 L463.4,507.00 L463.9,504.80 L464.4,502.55 L464.9,500.24 L465.4,497.89 L465.9,495.49 L466.4,493.05 L466.9,490.56 L467.4,488.04 L467.9,485.47 L468.4,482.87 L468.9,480.23 L469.4,477.56 L469.9,474.86 L470.4,472.14 L470.9,469.39 L471.4,466.61 L471.9,463.82 L472.4,461.02 L472.9,458.20 L473.4,455.37 L473.9,452.54 L474.4,449.70 L474.9,446.86 L475.4,444.02 L475.9,441.19 L476.4,438.37 L476.9,435.57 L477.4,432.78 L477.9,430.01 L478.4,427.26 L478.9,424.54 L479.4,421.85 L479.9,419.20 L480.4,416.58 L480.9,414.00 L481.4,411.46 L481.9,408.97 L482.4,406.52 L482.9,404.13 L483.4,401.80 L483.9,399.52 L484.4,397.30 L484.9,395.15 L485.4,393.06 L485.9,391.04 L486.4,389.09 L486.9,387.22 L487.4,385.42 L487.9,383.69 L488.4,382.05 L488.9,380.48 L489.4,379.00 L489.9,377.60 L490.4,376.29 L490.9,375.06 L491.4,373.92 L491.9,372.87 L492.4,371.91 L492.9,371.04 L493.4,370.26 L493.9,369.57 L494.4,368.98 L494.9,368.47 L495.4,368.06 L495.9,367.74 L496.4,367.51 L496.9,367.37 L497.4,367.33 L497.9,367.38 L498.4,367.51 L498.9,367.74 L499.4,368.05 L499.9,368.45 L500.4,368.94 L500.9,369.52 L501.4,370.18 L501.9,370.92 L502.4,371.74 L502.9,372.65 L503.4,373.63 L503.9,374.69 L504.4,375.83 L504.9,377.04 L505.4,378.32 L505.9,379.67 L506.4,381.08 L506.9,382.57 L507.4,384.12 L507.9,385.72 L508.4,387.39 L508.9,389.11 L509.4,390.89 L509.9,392.72 L510.4,394.60 L510.9,396.53 L511.4,398.50 L511.9,400.51 L512.4,402.56 L512.9,404.65 L513.4,406.77 L513.9,408.92 L514.4,411.11 L514.9,413.31 L515.4,415.54 L515.9,417.79 L516.4,420.06 L516.9,422.34 L517.4,424.64 L517.9,426.94 L518.4,429.25 L518.9,431.57 L519.4,433.88 L519.9,436.19 L520.4,438.50 L520.9,440.80 L521.4,443.09 L521.9,445.37 L522.4,447.64 L522.9,449.88 L523.4,452.11 L523.9,454.31 L524.4,456.49 L524.9,458.64 L525.4,460.76 L525.9,462.85 L526.4,464.91 L526.9,466.93 L527.4,468.91 L527.9,470.85 L528.4,472.75 L528.9,474.61 L529.4,476.42 L529.9,478.18 L530.4,479.90 L530.9,481.57 L531.4,483.18 L531.9,484.75 L532.4,486.26 L532.9,487.72 L533.4,489.12 L533.9,490.46 L534.4,491.75 L534.9,492.99 L535.4,494.16 L535.9,495.28 L536.4,496.34 L536.9,497.35 L537.4,498.29 L537.9,499.18 L538.4,500.01 L538.9,500.78 L539.4,501.49 L539.9,502.15 L540.4,502.75 L540.9,503.30 L541.4,503.79 L541.9,504.22 L542.4,504.61 L542.9,504.94 L543.4,505.22 L543.9,505.45 L544.4,505.63 L544.9,505.76 L545.4,505.85 L545.9,505.89 L546.4,505.89 L546.9,505.84 L547.4,505.76 L547.9,505.63 L548.4,505.46 L548.9,505.26 L549.4,505.03 L549.9,504.76 L550.4,504.45 L550.9,504.12 L551.4,503.76 L551.9,503.37 L552.4,502.96 L552.9,502.52 L553.4,502.05 L553.9,501.57 L554.4,501.07 L554.9,500.55 L555.4,500.01 L555.9,499.46 L556.4,498.89 L556.9,498.32 L557.4,497.73 L557.9,497.13 L558.4,496.53 L558.9,495.92 L559.4,495.30 L559.9,494.68 L560.4,494.06 L560.9,493.44 L561.4,492.81 L561.9,492.19 L562.4,491.57 L562.9,490.96 L563.4,490.35 L563.9,489.75 L564.4,489.15 L564.9,488.56 L565.4,487.99 L565.9,487.42 L566.4,486.86 L566.9,486.32 L567.4,485.79 L567.9,485.27 L568.4,484.77 L568.9,484.29 L569.4,483.82 L569.9,483.38 L570.4,482.95 L570.9,482.54 L571.4,482.15 L571.9,481.78 L572.4,481.43 L572.9,481.11 L573.4,480.80 L573.9,480.53 L574.4,480.27 L574.9,480.05 L575.4,479.84 L575.9,479.67 L576.4,479.52 L576.9,479.39 L577.4,479.29 L577.9,479.23 L578.4,479.18 L578.9,479.17 L579.4,479.18 L579.9,479.23 L580.4,479.30 L580.9,479.40 L581.4,479.52 L581.9,479.68 L582.4,479.86 L582.9,480.08 L583.4,480.32 L583.9,480.58 L584.4,480.88 L584.9,481.20 L585.4,481.55 L585.9,481.93 L586.4,482.33 L586.9,482.75 L587.4,483.20 L587.9,483.68 L588.4,484.17 L588.9,484.69 L589.4,485.23 L589.9,485.80 L590.4,486.38 L590.9,486.98 L591.4,487.60 L591.9,488.23 L592.4,488.88 L592.9,489.55 L593.4,490.23 L593.9,490.93 L594.4,491.64 L594.9,492.35 L595.4,493.08 L595.9,493.82 L596.4,494.56 L596.9,495.31 L597.4,496.07 L597.9,496.83 L598.4,497.59 L598.9,498.36 L599.4,499.13 L599.9,499.90 L600.4,500.66 L600.9,501.43 L601.4,502.19 L601.9,502.95 L602.4,503.71 L602.9,504.46 L603.4,505.20 L603.9,505.94 L604.4,506.67 L604.9,507.39 L605.4,508.10 L605.9,508.81 L606.4,509.50 L606.9,510.18 L607.4,510.85 L607.9,511.51 L608.4,512.16 L608.9,512.79 L609.4,513.41 L609.9,514.02 L610.4,514.61 L610.9,515.19 L611.4,515.76 L611.9,516.31 L612.4,516.84 L612.9,517.37 L613.4,517.87 L613.9,518.37 L614.4,518.84 L614.9,519.31 L615.4,519.76 L615.9,520.19 L616.4,520.61 L616.9,521.01 L617.4,521.40 L617.9,521.77 L618.4,522.13 L618.9,522.48 L619.4,522.81 L619.9,523.12 L620.4,523.43 L620.9,523.71 L621.4,523.99 L621.9,524.25 L622.4,524.49 L622.9,524.72 L623.4,524.94 L623.9,525.14 L624.4,525.33 L624.9,525.51 L625.4,525.67 L625.9,525.82 L626.4,525.96 L626.9,526.08 L627.4,526.19 L627.9,526.29 L628.4,526.37 L628.9,526.44 L629.4,526.50 L629.9,526.55 L630.4,526.58 L630.9,526.60 L631.4,526.60 L631.9,526.60 L632.4,526.58 L632.9,526.54 L633.4,526.50 L633.9,526.44 L634.4,526.37 L634.9,526.29 L635.4,526.20 L635.9,526.09 L636.4,525.98 L636.9,525.85 L637.4,525.71 L637.9,525.56 L638.4,525.39 L638.9,525.22 L639.4,525.03 L639.9,524.83 L640.4,524.63 L640.9,524.41 L641.4,524.18 L641.9,523.94 L642.4,523.70 L642.9,523.44 L643.4,523.18 L643.9,522.90 L644.4,522.62 L644.9,522.32 L645.4,522.02 L645.9,521.72 L646.4,521.40 L646.9,521.08 L647.4,520.75 L647.9,520.41 L648.4,520.07 L648.9,519.72 L649.4,519.37 L649.9,519.00 L650.4,518.64 L650.9,518.27 L651.4,517.89 L651.9,517.51 L652.4,517.13 L652.9,516.74 L653.4,516.35 L653.9,515.95 L654.4,515.56 L654.9,515.15 L655.4,514.75 L655.9,514.35 L656.4,513.94 L656.9,513.53 L657.4,513.12 L657.9,512.70 L658.4,512.29 L658.9,511.87 L659.4,511.46 L659.9,511.04 L660.4,510.62 L660.9,510.21 L661.4,509.79 L661.9,509.38 L662.4,508.96 L662.9,508.55 L663.4,508.14 L663.9,507.73 L664.4,507.32 L664.9,506.91 L665.4,506.51 L665.9,506.11 L666.4,505.71 L666.9,505.32 L667.4,504.93 L667.9,504.55 L668.4,504.17 L668.9,503.80 L669.4,503.43 L669.9,503.07 L670.4,502.72 L670.9,502.37 L671.4,502.03 L671.9,501.70 L672.4,501.38 L672.9,501.07 L673.4,500.77 L673.9,500.48 L674.4,500.20 L674.9,499.93 L675.4,499.67 L675.9,499.43 L676.4,499.20 L676.9,498.99 L677.4,498.79 L677.9,498.60 L678.4,498.43 L678.9,498.28 L679.4,498.14 L679.9,498.02 L680.4,497.92 L680.9,497.84 L681.4,497.78 L681.9,497.73 L682.4,497.71 L682.9,497.71 L683.4,497.72 L683.9,497.76 L684.4,497.82 L684.9,497.90 L685.4,498.01 L685.9,498.13 L686.4,498.28 L686.9,498.45 L687.4,498.64 L687.9,498.86 L688.4,499.10 L688.9,499.36 L689.4,499.65 L689.9,499.96 L690.4,500.29 L690.9,500.65 L691.4,501.03 L691.9,501.43 L692.4,501.85 L692.9,502.30 L693.4,502.76 L693.9,503.25 L694.4,503.77 L694.9,504.30 L695.4,504.85 L695.9,505.43 L696.4,506.02 L696.9,506.63 L697.4,507.26 L697.9,507.92 L698.4,508.59 L698.9,509.27 L699.4,509.98 L699.9,510.70 L700.4,511.43 L700.9,512.19 L701.4,512.95 L701.9,513.73 L702.4,514.53 L702.9,515.34 L703.4,516.16 L703.9,516.99 L704.4,517.83 L704.9,518.69 L705.4,519.55 L705.9,520.43 L706.4,521.31 L706.9,522.20 L707.4,523.10 L707.9,524.00 L708.4,524.91 L708.9,525.83 L709.4,526.75 L709.9,527.68 L710.4,528.61 L710.9,529.54 L711.4,530.48 L711.9,531.42 L712.4,532.36 L712.9,533.30 L713.4,534.25 L713.9,535.19 L714.4,536.13 L714.9,537.08 L715.4,538.02 L715.9,538.96 L716.4,539.89 L716.9,540.83 L717.4,541.76 L717.9,542.69 L718.4,543.61 L718.9,544.53 L719.4,545.44 L719.9,546.35 L720.4,547.25 L720.9,548.15 L721.4,549.04 L721.9,549.92 L722.4,550.79 L722.9,551.66 L723.4,552.52 L723.9,553.37 L724.4,554.21 L724.9,555.05 L725.4,555.87 L725.9,556.68 L726.4,557.49 L726.9,558.28 L727.4,559.06 L727.9,559.84 L728.4,560.60 L728.9,561.35 L729.4,562.08 L729.9,562.81 L730.4,563.52 L730.9,564.23 L731.4,564.92 L731.9,565.59 L732.4,566.26 L732.9,566.91 L733.4,567.55 L733.9,568.17 L734.4,568.79 L734.9,569.38 L735.4,569.97 L735.9,570.54 L736.4,571.10 L736.9,571.65 L737.4,572.18 L737.9,572.70 L738.4,573.21 L738.9,573.70 L739.4,574.18 L739.9,574.64 L740.4,575.10 L740.9,575.54 L741.4,575.97 L741.9,576.38 L742.4,576.78 L742.9,577.17 L743.4,577.55 L743.9,577.91 L744.4,578.26 L744.9,578.61 L745.4,578.93 L745.9,579.25 L746.4,579.56 L746.9,579.85 L747.4,580.14 L747.9,580.41 L748.4,580.67 L748.9,580.93 L749.4,581.17 L749.9,581.40 L750.4,581.62 L750.9,581.84 L751.4,582.04 L751.9,582.24 L752.4,582.43 L752.9,582.61 L753.4,582.78 L753.9,582.94 L754.4,583.10 L754.9,583.25 L755.4,583.39 L755.9,583.52 L756.4,583.65 L756.9,583.77 L757.4,583.89 L757.9,584.00 L758.4,584.10 L758.9,584.20 L759.4,584.29 L759.9,584.38 L760.4,584.47 L760.9,584.55 L761.4,584.62 L761.9,584.69 L762.4,584.76 L762.9,584.82 L763.4,584.88 L763.9,584.93 L764.4,584.99 L764.9,585.04 L765.4,585.08 L765.9,585.13 L766.4,585.17 L766.9,585.20 L767.4,585.24 L767.9,585.27 L768.4,585.30 L768.9,585.33 L769.4,585.36 L769.9,585.39 L770.4,585.41 L770.9,585.43 L771.4,585.45 L771.9,585.47 L772.4,585.49 L772.9,585.51 L773.4,585.52 L773.9,585.54 L774.4,585.55 L774.9,585.56 L775.4,585.57 L775.9,585.58 L776.4,585.59 L776.9,585.60 L777.4,585.61 L777.9,585.62 L778.4,585.62 L778.9,585.63 L779.4,585.64 L779.9,585.64 L780.4,585.65 L780.9,585.65 L781.4,585.66 L781.9,585.66 L782.4,585.66 L782.9,585.67 L783.4,585.67 L783.9,585.67 L784.4,585.68 L784.9,585.68 L785.4,585.68 L785.9,585.68 L786.4,585.68 L786.9,585.68 L787.4,585.69 L787.9,585.69 L788.4,585.69 L788.9,585.69 L789.4,585.69 L789.9,585.69 L790.4,585.69 L790.9,585.69 L791.4,585.69 L791.9,585.69 L792.4,585.70 L792.9,585.70 L793.4,585.70 L793.9,585.70 L794.4,585.70 L794.9,585.70 L795.4,585.70 L795.9,585.70 L796.4,585.70 L796.9,585.70 L797.4,585.70 L797.9,585.70 L798.4,585.70 L798.9,585.70 L799.4,585.70 L799.9,585.70 L800.4,585.70 L800.9,585.70 L801.4,585.70 L801.9,585.70 L802.4,585.70 L802.9,585.70 L803.4,585.70" fill="none" stroke="#5e3c99" stroke-width="6.2" stroke-linejoin="round" stroke-linecap="butt"/>
</g>
<rect x="152.9" y="126.7" width="649.5" height="457.7" fill="none" stroke="#000" stroke-width="3.4"/>
<line x1="196.1" y1="584.4" x2="196.1" y2="573.4" stroke="#000" stroke-width="2.5"/>
<line x1="239.5" y1="584.4" x2="239.5" y2="573.4" stroke="#000" stroke-width="2.5"/>
<line x1="282.8" y1="584.4" x2="282.8" y2="573.4" stroke="#000" stroke-width="2.5"/>
<line x1="326.1" y1="584.4" x2="326.1" y2="573.4" stroke="#000" stroke-width="2.5"/>
<line x1="369.4" y1="584.4" x2="369.4" y2="565.6" stroke="#000" stroke-width="3.0"/>
<line x1="412.8" y1="584.4" x2="412.8" y2="573.4" stroke="#000" stroke-width="2.5"/>
<line x1="456.1" y1="584.4" x2="456.1" y2="573.4" stroke="#000" stroke-width="2.5"/>
<line x1="499.4" y1="584.4" x2="499.4" y2="573.4" stroke="#000" stroke-width="2.5"/>
<line x1="542.8" y1="584.4" x2="542.8" y2="573.4" stroke="#000" stroke-width="2.5"/>
<line x1="586.1" y1="584.4" x2="586.1" y2="565.6" stroke="#000" stroke-width="3.0"/>
<line x1="629.4" y1="584.4" x2="629.4" y2="573.4" stroke="#000" stroke-width="2.5"/>
<line x1="672.8" y1="584.4" x2="672.8" y2="573.4" stroke="#000" stroke-width="2.5"/>
<line x1="716.1" y1="584.4" x2="716.1" y2="573.4" stroke="#000" stroke-width="2.5"/>
<line x1="759.4" y1="584.4" x2="759.4" y2="573.4" stroke="#000" stroke-width="2.5"/>
<line x1="152.9" y1="558.1" x2="163.9" y2="558.1" stroke="#000" stroke-width="2.5"/>
<line x1="802.4" y1="558.1" x2="791.4" y2="558.1" stroke="#000" stroke-width="2.5"/>
<line x1="152.9" y1="530.6" x2="163.9" y2="530.6" stroke="#000" stroke-width="2.5"/>
<line x1="802.4" y1="530.6" x2="791.4" y2="530.6" stroke="#000" stroke-width="2.5"/>
<line x1="152.9" y1="503.0" x2="163.9" y2="503.0" stroke="#000" stroke-width="2.5"/>
<line x1="802.4" y1="503.0" x2="791.4" y2="503.0" stroke="#000" stroke-width="2.5"/>
<line x1="152.9" y1="475.5" x2="163.9" y2="475.5" stroke="#000" stroke-width="2.5"/>
<line x1="802.4" y1="475.5" x2="791.4" y2="475.5" stroke="#000" stroke-width="2.5"/>
<line x1="152.9" y1="447.9" x2="171.7" y2="447.9" stroke="#000" stroke-width="3.0"/>
<line x1="802.4" y1="447.9" x2="783.6" y2="447.9" stroke="#000" stroke-width="3.0"/>
<line x1="152.9" y1="420.3" x2="163.9" y2="420.3" stroke="#000" stroke-width="2.5"/>
<line x1="802.4" y1="420.3" x2="791.4" y2="420.3" stroke="#000" stroke-width="2.5"/>
<line x1="152.9" y1="392.8" x2="163.9" y2="392.8" stroke="#000" stroke-width="2.5"/>
<line x1="802.4" y1="392.8" x2="791.4" y2="392.8" stroke="#000" stroke-width="2.5"/>
<line x1="152.9" y1="365.2" x2="163.9" y2="365.2" stroke="#000" stroke-width="2.5"/>
<line x1="802.4" y1="365.2" x2="791.4" y2="365.2" stroke="#000" stroke-width="2.5"/>
<line x1="152.9" y1="337.7" x2="163.9" y2="337.7" stroke="#000" stroke-width="2.5"/>
<line x1="802.4" y1="337.7" x2="791.4" y2="337.7" stroke="#000" stroke-width="2.5"/>
<line x1="152.9" y1="310.1" x2="171.7" y2="310.1" stroke="#000" stroke-width="3.0"/>
<line x1="802.4" y1="310.1" x2="783.6" y2="310.1" stroke="#000" stroke-width="3.0"/>
<line x1="152.9" y1="282.5" x2="163.9" y2="282.5" stroke="#000" stroke-width="2.5"/>
<line x1="802.4" y1="282.5" x2="791.4" y2="282.5" stroke="#000" stroke-width="2.5"/>
<line x1="152.9" y1="255.0" x2="163.9" y2="255.0" stroke="#000" stroke-width="2.5"/>
<line x1="802.4" y1="255.0" x2="791.4" y2="255.0" stroke="#000" stroke-width="2.5"/>
<line x1="152.9" y1="227.4" x2="163.9" y2="227.4" stroke="#000" stroke-width="2.5"/>
<line x1="802.4" y1="227.4" x2="791.4" y2="227.4" stroke="#000" stroke-width="2.5"/>
<line x1="152.9" y1="199.9" x2="163.9" y2="199.9" stroke="#000" stroke-width="2.5"/>
<line x1="802.4" y1="199.9" x2="791.4" y2="199.9" stroke="#000" stroke-width="2.5"/>
<line x1="152.9" y1="172.3" x2="171.7" y2="172.3" stroke="#000" stroke-width="3.0"/>
<line x1="802.4" y1="172.3" x2="783.6" y2="172.3" stroke="#000" stroke-width="3.0"/>
<line x1="152.9" y1="144.7" x2="163.9" y2="144.7" stroke="#000" stroke-width="2.5"/>
<line x1="802.4" y1="144.7" x2="791.4" y2="144.7" stroke="#000" stroke-width="2.5"/>
<line x1="376.9" y1="126.7" x2="376.9" y2="145.5" stroke="#000" stroke-width="3.0"/>
<line x1="496.1" y1="126.7" x2="496.1" y2="145.5" stroke="#000" stroke-width="3.0"/>
<line x1="607.8" y1="126.7" x2="607.8" y2="145.5" stroke="#000" stroke-width="3.0"/>
<line x1="657.5" y1="126.7" x2="657.5" y2="137.7" stroke="#000" stroke-width="2.5"/>
<line x1="683.7" y1="126.7" x2="683.7" y2="145.5" stroke="#000" stroke-width="3.0"/>
<line x1="699.4" y1="126.7" x2="699.4" y2="137.7" stroke="#000" stroke-width="2.5"/>
<line x1="710.0" y1="126.7" x2="710.0" y2="137.7" stroke="#000" stroke-width="2.5"/>
<line x1="717.5" y1="126.7" x2="717.5" y2="137.7" stroke="#000" stroke-width="2.5"/>
<line x1="722.6" y1="126.7" x2="722.6" y2="145.5" stroke="#000" stroke-width="3.0"/>
<text transform="translate(138.9,187.9) scale(1,1.045)" text-anchor="end">0.3</text>
<text transform="translate(138.9,325.7) scale(1,1.045)" text-anchor="end">0.2</text>
<text transform="translate(138.9,463.5) scale(1,1.045)" text-anchor="end">0.1</text>
<text transform="translate(376.9,103.5) scale(1,1.045)" text-anchor="middle">0.5</text>
<text transform="translate(496.3,103.5) scale(1,1.045)" text-anchor="middle">1</text>
<text transform="translate(608.3,103.5) scale(1,1.045)" text-anchor="middle">2</text>
<text transform="translate(683.5,103.5) scale(1,1.045)" text-anchor="middle">4</text>
<text transform="translate(722.6,103.5) scale(1,1.045)" text-anchor="middle">8</text>
<text x="477.7" y="58.4" text-anchor="middle" font-style="italic">z</text>
<text transform="translate(368.8,628.8) scale(1,1.045)" text-anchor="middle">5</text>
<text transform="translate(586.6,628.8) scale(1,1.045)" text-anchor="middle">10</text>
<text x="380.7" y="683.9" font-style="italic">t</text>
<text x="394.1" y="690.3" style="font-size:29.5px" textLength="85.6" lengthAdjust="spacingAndGlyphs">created</text>
<text transform="translate(486.3,690.4) scale(0.93,1.055)" style="font-size:53px">/</text>
<text x="503.2" y="683.8">Gyr</text>
<g transform="translate(57.9,0) rotate(-90)"><text x="-435.6" y="1.2" style="font-family:'DejaVu Serif','Liberation Serif',serif;font-size:42px" font-style="italic">f</text><text x="-411.4" y="0">(</text><text x="-396.8" y="0" font-style="italic">t</text><text x="-384.2" y="6.4" style="font-size:29.5px" textLength="85.6" lengthAdjust="spacingAndGlyphs">created</text><text x="-295.2" y="0">)</text></g>
<text x="423" y="193.8" textLength="131.6" lengthAdjust="spacingAndGlyphs">Doppel</text><text x="566.2" y="193.8">et</text><text x="611.8" y="193.8">al.</text>
<text transform="translate(669.0,193.8) scale(1,1.045)" text-anchor="start">2023</text>
</svg>
</body></html>
